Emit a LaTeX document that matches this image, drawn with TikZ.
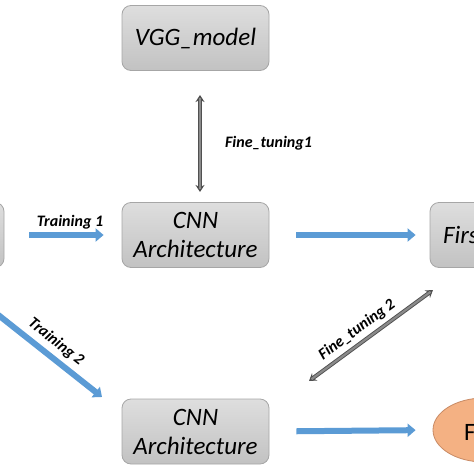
\documentclass[tikz,border=0pt]{standalone}
\usepackage{fontspec}
\setmainfont{Carlito}
\usetikzlibrary{arrows.meta,shapes.geometric,shadows}
\definecolor{boxtop}{HTML}{DEDEDE}
\definecolor{boxbot}{HTML}{C2C2C2}
\definecolor{boxline}{HTML}{A6A6A6}
\definecolor{arrblue}{HTML}{5B9BD5}
\definecolor{arrgray}{HTML}{8A8A8A}
\definecolor{arrdark}{HTML}{505050}
\definecolor{ellfill}{HTML}{F4B183}
\definecolor{ellline}{HTML}{C88A64}
\begin{document}
\begin{tikzpicture}[x=1pt,y=-1pt,
  procbox/.style={draw=boxline, line width=0.8pt, rounded corners=9pt,
    top color=boxtop, bottom color=boxbot, minimum width=147pt, minimum height=65pt,
    inner sep=0pt, font=\fontsize{25}{29}\selectfont\itshape, align=center},
  blueconn/.style={draw=arrblue, line width=6pt, -{Triangle[width=13pt,length=8pt]}},
  grayouter/.style={draw=arrdark, line width=4pt, {Stealth[width=9pt,length=7pt]}-{Stealth[width=9pt,length=7pt]}},
  grayinner/.style={draw=arrgray, line width=2.2pt},
  lbl/.style={font=\fontsize{16}{18}\selectfont\bfseries\itshape, inner sep=0pt}
]
\useasboundingbox (0,0) rectangle (474,474);
\begin{scope}
\clip (0,0) rectangle (474,474);
% boxes
\node[procbox] (vgg) at (195.5,38) {VGG\_model};
\node[procbox] (cnna) at (195.5,235) {CNN\\Architecture};
\node[procbox] (cnnb) at (195.5,431.5) {CNN\\Architecture};
\node[procbox] (inbox) at (-69.5,235) {};
\node[procbox] (first) at (503.5,235) {};
\node[anchor=west, inner sep=0pt, font=\fontsize{25}{29}\selectfont\itshape] (firsttxt) at (443,235) {Firs};
\node[ellipse, draw=ellline, line width=0.8pt, fill=ellfill, minimum width=102pt, minimum height=64pt, inner sep=0pt] (res) at (484,430) {};
\node[anchor=west, inner sep=0pt, font=\fontsize{25}{29}\selectfont] (restxt) at (464,432) {F};
% blue connectors
\draw[blueconn, shorten <=25pt, shorten >=18pt] (inbox.east) -- (cnna.west);
\draw[blueconn, shorten <=27pt, shorten >=14pt] (cnna.east) -- (first.west);
\draw[blueconn, shorten <=27pt, shorten >=17pt] (cnnb.east) -- (res.west);
\coordinate (t2s) at (-8,310);
\coordinate (t2e) at (102,397);
\draw[blueconn] (t2s) -- (t2e);
% gray double connectors
\coordinate (fa) at (200,95);
\coordinate (fb) at (200,192);
\draw[grayouter] (fa) -- (fb);
\draw[grayinner, shorten <=3pt, shorten >=3pt] (fa) -- (fb);
\coordinate (fc) at (309,381);
\coordinate (fd) at (433,290);
\draw[grayouter] (fc) -- (fd);
\draw[grayinner, shorten <=3pt, shorten >=3pt] (fc) -- (fd);
\end{scope}
% labels
\node[lbl] (l1) at (268.5,143) {Fine\_tuning1};
\node[lbl] (l2) at (70,222) {Training 1};
\node[lbl, rotate=-38.5] (l3) at (56,342) {Training 2};
\node[lbl, rotate=36.3] (l4) at (357,330) {Fine\_tuning 2};
\end{tikzpicture}
\end{document}
